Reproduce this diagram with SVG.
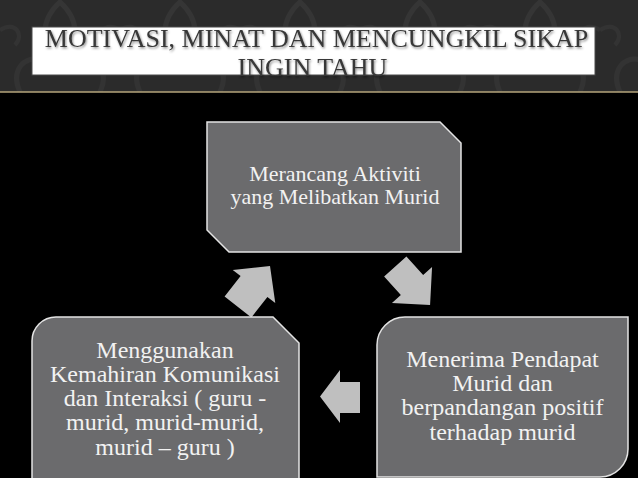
<svg xmlns="http://www.w3.org/2000/svg" width="638" height="478" viewBox="0 0 638 478">
<defs>
<pattern id="damask" x="0" y="0" width="120" height="92" patternUnits="userSpaceOnUse">
<rect width="120" height="92" fill="#2b2b2b"/>
<path d="M60,2 C40,20 40,45 60,60 C80,45 80,20 60,2 Z" fill="none" stroke="#353535" stroke-width="5"/>
<path d="M20,92 C10,70 25,55 40,60 M100,92 C110,70 95,55 80,60" fill="none" stroke="#333333" stroke-width="5"/>
<path d="M0,30 C15,20 25,35 15,45 M120,30 C105,20 95,35 105,45" fill="none" stroke="#333333" stroke-width="4"/>
</pattern>
<filter id="tshadow" x="-5%" y="-20%" width="110%" height="150%">
<feDropShadow dx="1" dy="1.5" stdDeviation="0.8" flood-color="#000" flood-opacity="0.45"/>
</filter>
<style>
.title{font-family:"Liberation Serif","DejaVu Serif",serif;font-size:26px;fill:#383838;text-anchor:middle;}
.node{fill:#6b6b6d;stroke:#e4e4e4;stroke-width:1.5;}
.lbl{font-family:"Liberation Serif","DejaVu Serif",serif;font-size:24px;fill:#f2f2f2;text-anchor:middle;}
.arrow{fill:#bfbfbf;}
</style>
</defs>
<rect x="0" y="0" width="638" height="478" fill="#000"/>
<rect x="0" y="0" width="638" height="92" fill="url(#damask)"/>
<line x1="0" y1="92" x2="638" y2="92" stroke="#b5a57b" stroke-width="1.6"/>

<g id="title">
<rect x="32" y="27" width="563" height="48" fill="#ffffff" stroke="#4a4a4a" stroke-width="1"/>
<g filter="url(#tshadow)">
<text class="title" x="316.5" y="47">MOTIVASI, MINAT DAN MENCUNGKIL SIKAP</text>
<text class="title" x="312.5" y="76">INGIN TAHU</text>
</g>
</g>

<g id="connectors">
<polygon class="arrow" points="-26,-17 0,-17 0,-27 26,0 0,27 0,17 -26,17" transform="translate(254,286.5) rotate(-52)"/>
<polygon class="arrow" points="-25,-15 0,-15 0,-27 27,0 0,27 0,15 -25,15" transform="translate(412,285) rotate(48)"/>
<polygon class="arrow" points="360,382 340,382 340,370 320,396.5 340,423 340,413 360,413"/>
</g>

<g id="node-top">
<polygon class="node" points="207,122 440,122 461,143 461,252 229,252 207,230"/>
<text class="lbl" style="font-size:22px" x="335" y="181">Merancang Aktiviti</text>
<text class="lbl" style="font-size:22px" x="335" y="204">yang Melibatkan Murid</text>
</g>

<g id="node-left">
<path class="node" d="M32,490 L32,341 A24,24 0 0 1 56,317 L273,317 L299,343 L299,490"/>
<text class="lbl" x="165" y="358">Menggunakan</text>
<text class="lbl" x="165" y="382">Kemahiran Komunikasi</text>
<text class="lbl" x="165" y="406">dan Interaksi ( guru -</text>
<text class="lbl" x="165" y="430">murid, murid-murid,</text>
<text class="lbl" x="165" y="455">murid – guru )</text>
</g>

<g id="node-right">
<path class="node" d="M377,477 L377,345 A28,28 0 0 1 405,317 L628,317 L628,449 A28,28 0 0 1 600,477 Z"/>
<text class="lbl" x="502.5" y="367">Menerima Pendapat</text>
<text class="lbl" x="502.5" y="391">Murid dan</text>
<text class="lbl" x="502.5" y="415">berpandangan positif</text>
<text class="lbl" x="502.5" y="440">terhadap murid</text>
</g>
</svg>
